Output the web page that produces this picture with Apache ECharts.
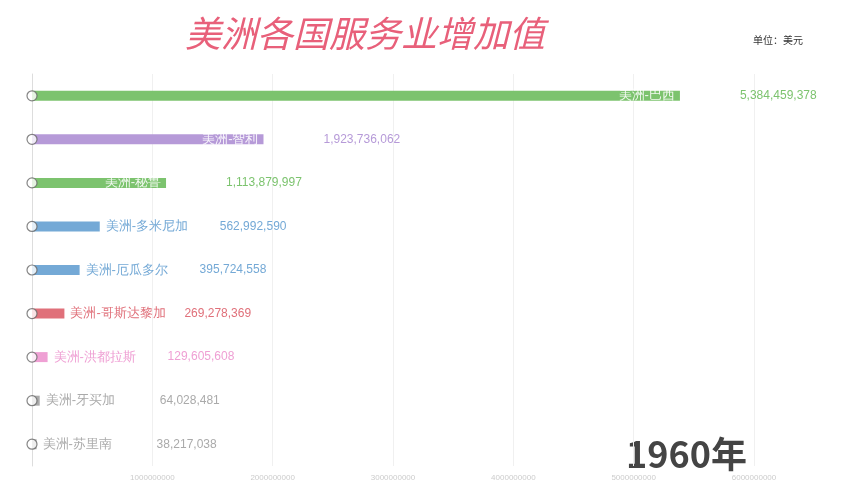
<!DOCTYPE html>
<html><head><meta charset="utf-8">
<script src="https://cdn.jsdelivr.net/npm/echarts@6/dist/echarts.min.js"></script>
<style>html,body{margin:0;padding:0;background:#fff}#c{width:864px;height:486px}</style>
</head><body><div id="c"></div>
<script>
const countries = ['美洲-巴西','美洲-智利','美洲-秘鲁','美洲-多米尼加','美洲-厄瓜多尔','美洲-哥斯达黎加','美洲-洪都拉斯','美洲-牙买加','美洲-苏里南'];
const values = [5384459378,1923736062,1113879997,562992590,395724558,269278369,129605608,64028481,38217038];
const colors = ['#7cc36e','#b69ad8','#7cc36e','#74a9d6','#74a9d6','#e0707a','#efa0d4','#aaaaaa','#aaaaaa'];
const year = '1960年';

// bars too short to hold their name get it outside, to the right
const fits = v => v > 1000000000;

const chart = echarts.init(document.getElementById('c'));
chart.setOption({
  title: [
    { text: '美洲各国服务业增加值', left: 180, top: 10,
      textStyle: { color: '#e8607a', fontSize: 36, fontStyle: 'italic', fontWeight: 'normal', fontFamily: 'Noto Sans CJK SC' } },
    { text: '单位：美元', left: 748, top: 30, textStyle: { color: '#333', fontSize: 10, fontWeight: 'normal', fontFamily: 'Noto Sans CJK SC' } }
  ],
  graphic: [{ type: 'text', left: 626, top: 436,
    style: { text: year, fill: '#444', font: 'bold 36px "Noto Sans CJK SC"' } }],
  grid: { left: 32, right: 110, top: 74, bottom: 20 },
  xAxis: { type: 'value', min: 0, max: 6000000000, interval: 1000000000,
    axisLine: { show: false }, axisTick: { show: false },
    splitLine: { lineStyle: { color: '#f0f0f0' } },
    axisLabel: { color: '#ccc', fontSize: 8, formatter: v => v === 0 ? '' : String(v) } },
  yAxis: { type: 'category', data: countries, inverse: true,
    axisLine: { show: true, lineStyle: { color: '#ddd' } }, axisTick: { show: false }, axisLabel: { show: false } },
  series: [
    { type: 'bar', barWidth: 10,
      data: values.map((v, i) => ({
        value: v, itemStyle: { color: colors[i] },
        label: fits(v)
          ? { show: true, position: 'insideRight', color: 'rgba(255,255,255,0.9)' }
          : { show: true, position: 'right', distance: 6, color: colors[i] }
      })),
      label: { fontSize: 13, overflow: 'none', formatter: p => countries[p.dataIndex] }
    },
    { type: 'bar', barWidth: 10, barGap: '-100%', silent: true,
      data: values.map((v, i) => ({
        value: v, itemStyle: { color: 'transparent' },
        label: { color: colors[i], distance: fits(v) ? 60 : 120 }
      })),
      label: { show: true, position: 'right', fontSize: 12,
        formatter: p => values[p.dataIndex].toLocaleString('en-US') }
    },
    { type: 'scatter', symbol: 'circle', symbolSize: 10, z: 5,
      data: countries.map(c => [0, c]),
      itemStyle: { color: '#fff', borderColor: '#666', borderWidth: 1.2 } }
  ]
});
</script></body></html>
